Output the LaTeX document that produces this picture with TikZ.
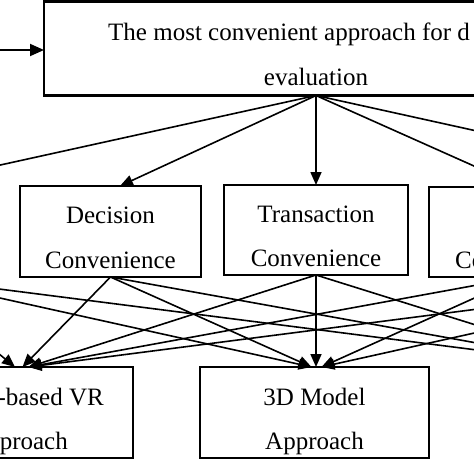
\documentclass[tikz,border=0pt]{standalone}
\usepackage{fontspec}
\setmainfont{Liberation Serif}
\usetikzlibrary{arrows.meta}
\begin{document}
\begin{tikzpicture}[x=1pt,y=-1pt,
  box/.style={draw=black,line width=2.5pt,rectangle,inner sep=0pt,outer sep=0pt},
  lbl/.style={anchor=base,inner sep=0pt,font=\fontsize{25}{45}\selectfont},
  conn/.style={line width=1.6pt,-{Triangle[length=13pt,width=11pt]}},
  link/.style={line width=1.6pt}]
\useasboundingbox (0,0) rectangle (474,474);
\clip (0,0) rectangle (474,474);
\fill[white] (0,0) rectangle (474,474);
% boxes
\node[box,minimum width=544pt,minimum height=94pt] (goal) at (316,48.5) {};
\node[box,minimum width=183pt,minimum height=91pt] (c1) at (-95,231.5) {};
\node[box,minimum width=181pt,minimum height=91pt] (c2) at (110.5,231.5) {};
\node[box,minimum width=184pt,minimum height=90pt] (c3) at (316,230) {};
\node[box,minimum width=184pt,minimum height=90pt] (c4) at (521,232) {};
\node[box,minimum width=184pt,minimum height=91pt] (c5) at (726,231.5) {};
\node[box,minimum width=229pt,minimum height=91pt] (a1) at (18.5,412.5) {};
\node[box,minimum width=229pt,minimum height=91pt] (a2) at (314.5,412.5) {};
\node[box,minimum width=229pt,minimum height=91pt] (a3) at (613,412.5) {};
% texts
\node[lbl,anchor=base west] (g1) at (108,40) {The most convenient approach for d};
\node[lbl] (g2) at (316,85) {evaluation};
\node[lbl] (d1) at (110.5,223) {Decision};
\node[lbl] (d2) at (110.5,268) {Convenience};
\node[lbl] (t1) at (316,222) {Transaction};
\node[lbl] (t2) at (316,266) {Convenience};
\node[lbl,anchor=base west] (k2) at (455,268) {Co};
\node[lbl,anchor=base east] (v1) at (104,405) {-based VR};
\node[lbl,anchor=base east] (v2) at (68,449) {proach};
\node[lbl] (m1) at (314.5,405) {3D Model};
\node[lbl] (m2) at (314.5,449) {Approach};
% input arrow
\coordinate (src) at (-30,50);
\draw[line width=1.8pt,-{Triangle[length=14pt,width=12pt]}] (src) -- (src -| goal.west);
% goal to criteria
\draw[conn] (goal.south) -- (c1.north);
\draw[conn] (goal.south) -- ([xshift=9.5pt]c2.north);
\draw[conn] (goal.south) -- (c3.north);
\draw[conn] (goal.south) -- (c4.north);
\draw[conn] (goal.south) -- (c5.north);
% criteria to alternatives
\draw[conn] (c1.south) -- ([xshift=-3.5pt]a1.north);
\draw[conn] (c2.south) -- ([xshift=4pt]a1.north);
\draw[conn] (c3.south) -- ([xshift=10pt]a1.north);
\draw[conn] (c4.south) -- ([xshift=10pt]a1.north);
\draw[conn] (c5.south) -- ([xshift=10pt]a1.north);
\draw[conn] (c1.south) -- ([xshift=-3pt]a2.north);
\draw[conn] (c2.south) -- ([xshift=-3pt]a2.north);
\draw[conn] (c3.south) -- (c3.south |- a2.north);
\draw[conn] (c4.south) -- ([xshift=7pt]a2.north);
\draw[conn] (c5.south) -- ([xshift=7pt]a2.north);
\draw[conn] (c1.south) -- ([xshift=-3pt]a3.north);
\draw[conn] (c2.south) -- ([xshift=-3pt]a3.north);
\draw[conn] (c3.south) -- ([xshift=-3pt]a3.north);
\draw[conn] (c4.south) -- ([xshift=7pt]a3.north);
\draw[conn] (c5.south) -- ([xshift=7pt]a3.north);
\end{tikzpicture}
\end{document}
